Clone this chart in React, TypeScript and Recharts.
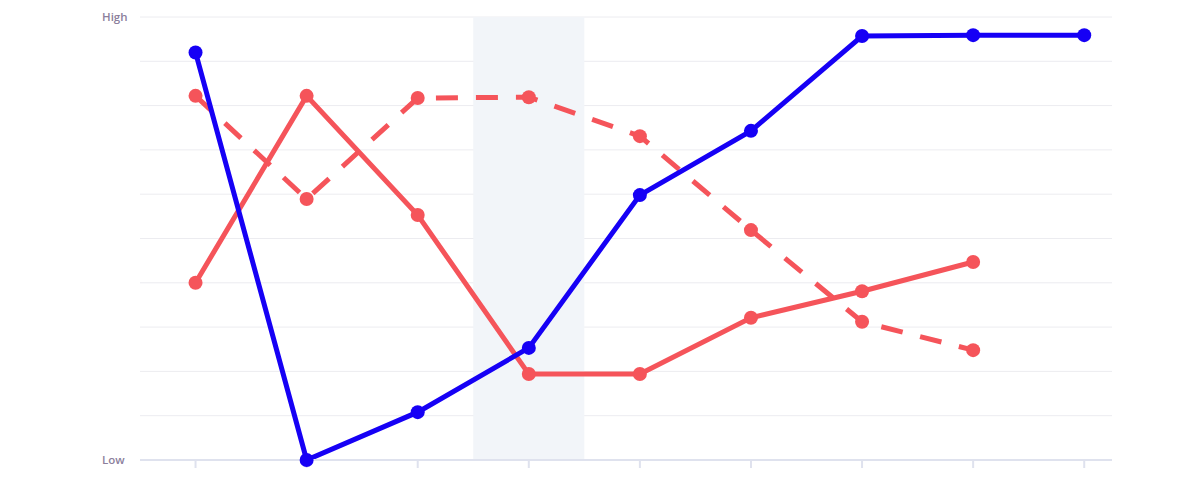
import { LineChart, Line, XAxis, YAxis, CartesianGrid, ReferenceArea } from "recharts";

const steps = [0, 1, 2, 3, 4, 5, 6, 7, 8];
const blueValues = [92, 0, 10.8, 25.3, 59.8, 74.3, 95.7, 95.9, 95.9];
const redValues = [40, 82.2, 55.3, 19.4, 19.4, 32.1, 38.1, 44.7, null];
const redDashedValues = [82.2, 58.9, 81.7, 81.9, 73.1, 51.9, 31.2, 24.8, null];
const yTicks = [0, 10, 20, 30, 40, 50, 60, 70, 80, 90, 100];
const yLabels: Record<number, string> = { 0: "Low", 100: "High" };

const data = steps.map((s, i) => ({
  step: s,
  blue: blueValues[i],
  red: redValues[i],
  redDashed: redDashedValues[i],
}));

const BLUE = "#1600f5";
const RED = "#f5545a";

function YTick(props: any) {
  const { y, payload } = props;
  const label = yLabels[payload.value];
  if (!label) return null;
  return (
    <text x={102} y={y} dy={4} textAnchor="start" fontSize={11.5} fontWeight={600} fill="#8c7f9c" fontFamily="'Open Sans', sans-serif">
      {label}
    </text>
  );
}

export default function App() {
  return (
    <div style={{ position: "fixed", top: 0, left: 0, width: 1200, height: 488, background: "#fff" }}>
      <LineChart width={1200} height={488} data={data} margin={{ top: 17, right: 88, bottom: 8, left: 80 }}>
        <ReferenceArea x1={2.5} x2={3.5} fill="#f2f5f9" fillOpacity={1} stroke="none" ifOverflow="hidden" />
        <CartesianGrid vertical={false} stroke="#ececf0" strokeWidth={1} />
        <XAxis
          dataKey="step"
          type="number"
          domain={[-0.5, 8.25]}
          ticks={steps}
          allowDataOverflow
          height={20}
          axisLine={{ stroke: "#dfe2ee", strokeWidth: 2 }}
          tickLine={{ stroke: "#dfe2ee", strokeWidth: 2 }}
          tickSize={8}
          tickFormatter={() => ""}
        />
        <YAxis
          type="number"
          domain={[0, 100]}
          ticks={yTicks}
          width={60}
          axisLine={false}
          tickLine={false}
          tick={<YTick />}
        />
        <Line
          dataKey="redDashed"
          type="linear"
          stroke={RED}
          strokeWidth={5}
          strokeDasharray="22 18"
          dot={{ r: 7, fill: RED, stroke: RED, strokeWidth: 0 }}
          activeDot={false}
          isAnimationActive={false}
        />
        <Line
          dataKey="red"
          type="linear"
          stroke={RED}
          strokeWidth={5}
          dot={{ r: 7, fill: RED, stroke: RED, strokeWidth: 0 }}
          activeDot={false}
          isAnimationActive={false}
        />
        <Line
          dataKey="blue"
          type="linear"
          stroke={BLUE}
          strokeWidth={5}
          dot={{ r: 7, fill: BLUE, stroke: BLUE, strokeWidth: 0 }}
          activeDot={false}
          isAnimationActive={false}
        />
      </LineChart>
    </div>
  );
}
